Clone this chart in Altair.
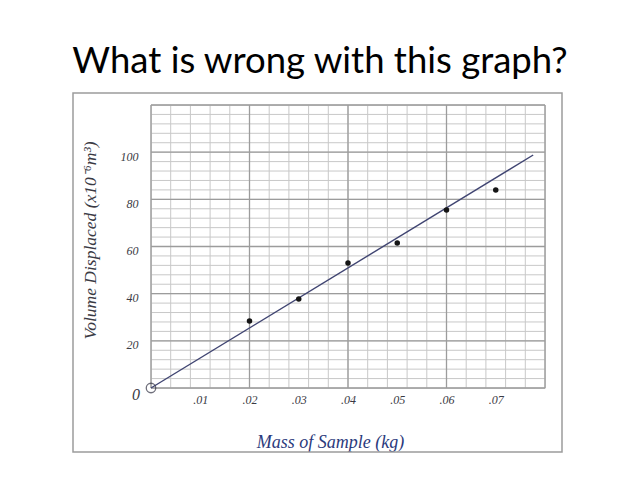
import json
import altair as alt
import pandas as pd

# ---- data ----
mass = [0.02, 0.03, 0.04, 0.05, 0.06, 0.07]
volume = [28.4, 37.7, 53.0, 61.5, 75.5, 84.0]

fit_x = [0.0, 0.0776]
fit_y = [0.0, 98.8]

origin_x = [0.0]
origin_y = [0.0]

x_tick_values = [0.01, 0.02, 0.03, 0.04, 0.05, 0.06, 0.07]
x_tick_labels = [".01", ".02", ".03", ".04", ".05", ".06", ".07"]
y_tick_values = [20, 40, 60, 80, 100]

# graph-paper lines
grid_x_minor = [0.0, 0.004, 0.008, 0.012, 0.016, 0.02, 0.024, 0.028, 0.032, 0.036,
                0.04, 0.044, 0.048, 0.052, 0.056, 0.06, 0.064, 0.068, 0.072, 0.076, 0.08]
grid_x_major = [0.0, 0.02, 0.04, 0.06, 0.08]
grid_y_minor = [0, 4, 8, 12, 16, 20, 24, 28, 32, 36, 40, 44, 48, 52, 56, 60,
                64, 68, 72, 76, 80, 84, 88, 92, 96, 100, 104, 108, 112, 116, 120]
grid_y_major = [0, 20, 40, 60, 80, 100, 120]

title_text = "What is wrong with this graph?"
x_title = "Mass of Sample (kg)"
y_title = "Volume Displaced (x10⁻⁶m³)"

# ---- styles ----
hand_font = "Liberation Serif"
pencil = "#3a3a44"
blue_ink = "#2b3a7c"

label_expr = json.dumps(x_tick_labels) + "[round(datum.value*100)-1]"

xscale = alt.Scale(domain=[0, 0.08], nice=False, zero=False)
yscale = alt.Scale(domain=[0, 120], nice=False, zero=False)

xaxis = alt.Axis(
    values=x_tick_values, labelExpr=label_expr, grid=False, domain=False, ticks=False,
    labelFont=hand_font, labelFontStyle="italic", labelFontSize=12, labelColor=pencil,
    labelPadding=6, title=x_title, titleFont=hand_font, titleFontStyle="italic",
    titleFontWeight="normal", titleFontSize=18, titleColor=blue_ink,
    titleX=179, titleY=59, titleBaseline="alphabetic", titleAnchor="start", titleAlign="center",
)
yaxis = alt.Axis(
    values=y_tick_values, format="d", grid=False, domain=False, ticks=False,
    labelFont=hand_font, labelFontStyle="italic", labelFontSize=12, labelColor=pencil,
    labelPadding=13, labelOffset=4, title=y_title, titleFont=hand_font,
    titleFontStyle="italic", titleFontWeight="normal", titleFontSize=17.5, titleColor=pencil,
    titleX=-61, titleY=135, titleAngle=270, titleBaseline="middle", titleAlign="center",
    titleAnchor="start",
)

def X(field):
    return alt.X(field, type="quantitative", scale=xscale, axis=xaxis)

def Y(field):
    return alt.Y(field, type="quantitative", scale=yscale, axis=yaxis)

frame = alt.Chart(pd.DataFrame({"k": [0]})).mark_rect(
    fillOpacity=0, stroke="#9c9c9c", strokeWidth=1.5
).encode(x=alt.value(-78), x2=alt.value(411), y=alt.value(-12), y2=alt.value(347))

gx_minor = alt.Chart(pd.DataFrame({"gx": grid_x_minor})).mark_rule(
    color="#c8c8c8", strokeWidth=1
).encode(x=X("gx"))
gy_minor = alt.Chart(pd.DataFrame({"gy": grid_y_minor})).mark_rule(
    color="#c8c8c8", strokeWidth=1
).encode(y=Y("gy"))
gx_major = alt.Chart(pd.DataFrame({"gx": grid_x_major})).mark_rule(
    color="#9c9c9c", strokeWidth=1.3
).encode(x=X("gx"))
gy_major = alt.Chart(pd.DataFrame({"gy": grid_y_major})).mark_rule(
    color="#9c9c9c", strokeWidth=1.3
).encode(y=Y("gy"))

fit = alt.Chart(pd.DataFrame({"mass": fit_x, "volume": fit_y})).mark_line(
    color="#404572", strokeWidth=1.4
).encode(x=X("mass"), y=Y("volume"))

pts = alt.Chart(pd.DataFrame({"mass": mass, "volume": volume})).mark_circle(
    color="#151515", size=30, opacity=1
).encode(x=X("mass"), y=Y("volume"))

origin = alt.Chart(pd.DataFrame({"mass": origin_x, "volume": origin_y})).mark_point(
    shape="circle", filled=False, color="#333344", size=90, strokeWidth=1.3
).encode(x=X("mass"), y=Y("volume"))

zero = alt.Chart(pd.DataFrame({"mass": origin_x, "volume": origin_y, "t": ["0"]})).mark_text(
    font=hand_font, fontStyle="italic", fontSize=16, color=pencil, dx=-15, dy=7
).encode(x=X("mass"), y=Y("volume"), text="t:N")

chart = alt.layer(
    frame, gx_minor, gy_minor, gx_major, gy_major, fit, pts, origin, zero
).properties(
    width=394,
    height=283,
    autosize="none",
    padding={"left": 143, "top": 97, "right": 85, "bottom": 83},
    title=alt.TitleParams(
        text=title_text, font="Lato", fontSize=36.5, fontWeight="normal",
        color="#000000", anchor="middle", dx=-28, offset=12,
    ),
).configure_view(stroke="#9c9c9c", strokeWidth=1.3).configure(background="white")

chart.save("out.html", embed_options={"renderer": "svg", "actions": False})
